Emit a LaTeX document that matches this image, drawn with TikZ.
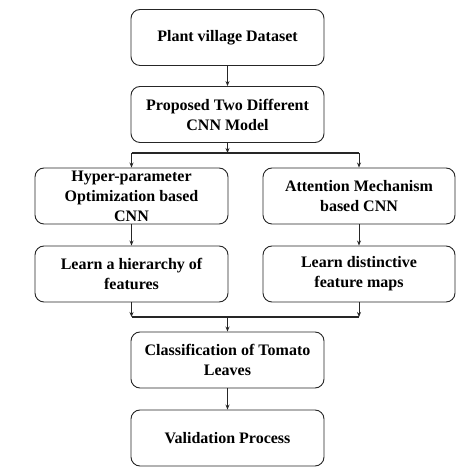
\documentclass[tikz,border=0pt]{standalone}
\usepackage{fontspec}
\setmainfont{Liberation Serif}
\usetikzlibrary{arrows.meta}
\begin{document}
\begin{tikzpicture}[x=1pt,y=1pt,
  box/.style={draw=black!85,line width=0.9pt,rounded corners=9pt,minimum width=193pt,minimum height=56pt,
    inner sep=0pt,align=center,font=\fontsize{16}{20}\selectfont\bfseries},
  conn/.style={draw=black!85,line width=0.9pt},
  arr/.style={conn,-{Stealth[length=5pt,width=4pt]}}]
\useasboundingbox (0,0) rectangle (474,476);
\fill[white] (0,0) rectangle (474,476);
\node[box] (b1) at (227.5,438.5) {Plant village Dataset};
\node[box] (b2) at (227.5,361.5) {Proposed Two Different\\CNN Model};
\node[box] (b3) at (131.5,280) {Hyper-parameter\\Optimization based\\CNN};
\node[box,minimum width=192pt] (b4) at (359,280) {Attention Mechanism\\based CNN};
\node[box] (b5) at (131.5,202) {Learn a hierarchy of\\features};
\node[box,minimum width=192pt] (b6) at (359,202) {Learn distinctive\\feature maps};
\node[box] (b7) at (227.5,116) {Classification of Tomato\\Leaves};
\node[box] (b8) at (227.5,38) {Validation Process};
\coordinate (s1) at (227.5,323);
\coordinate (s1l) at (131.5,323);
\coordinate (s1r) at (359,323);
\coordinate (s2) at (227.5,159);
\coordinate (s2l) at (131.5,159);
\coordinate (s2r) at (359,159);
\draw[arr] (b1) -- (b2);
\draw[arr] (b2) -- (s1);
\draw[conn,line width=1.3pt] (s1l) -- (s1r);
\draw[arr] (s1l) -- (b3);
\draw[arr] (s1r) -- (b4);
\draw[arr] (b3) -- (b5);
\draw[arr] (b4) -- (b6);
\draw[arr] (b5.south) -- (s2l);
\draw[arr] (b6.south) -- (s2r);
\draw[conn,line width=1.3pt] (s2l) -- (s2r);
\draw[arr] (s2) -- (b7);
\draw[arr] (b7) -- (b8);
\end{tikzpicture}
\end{document}
